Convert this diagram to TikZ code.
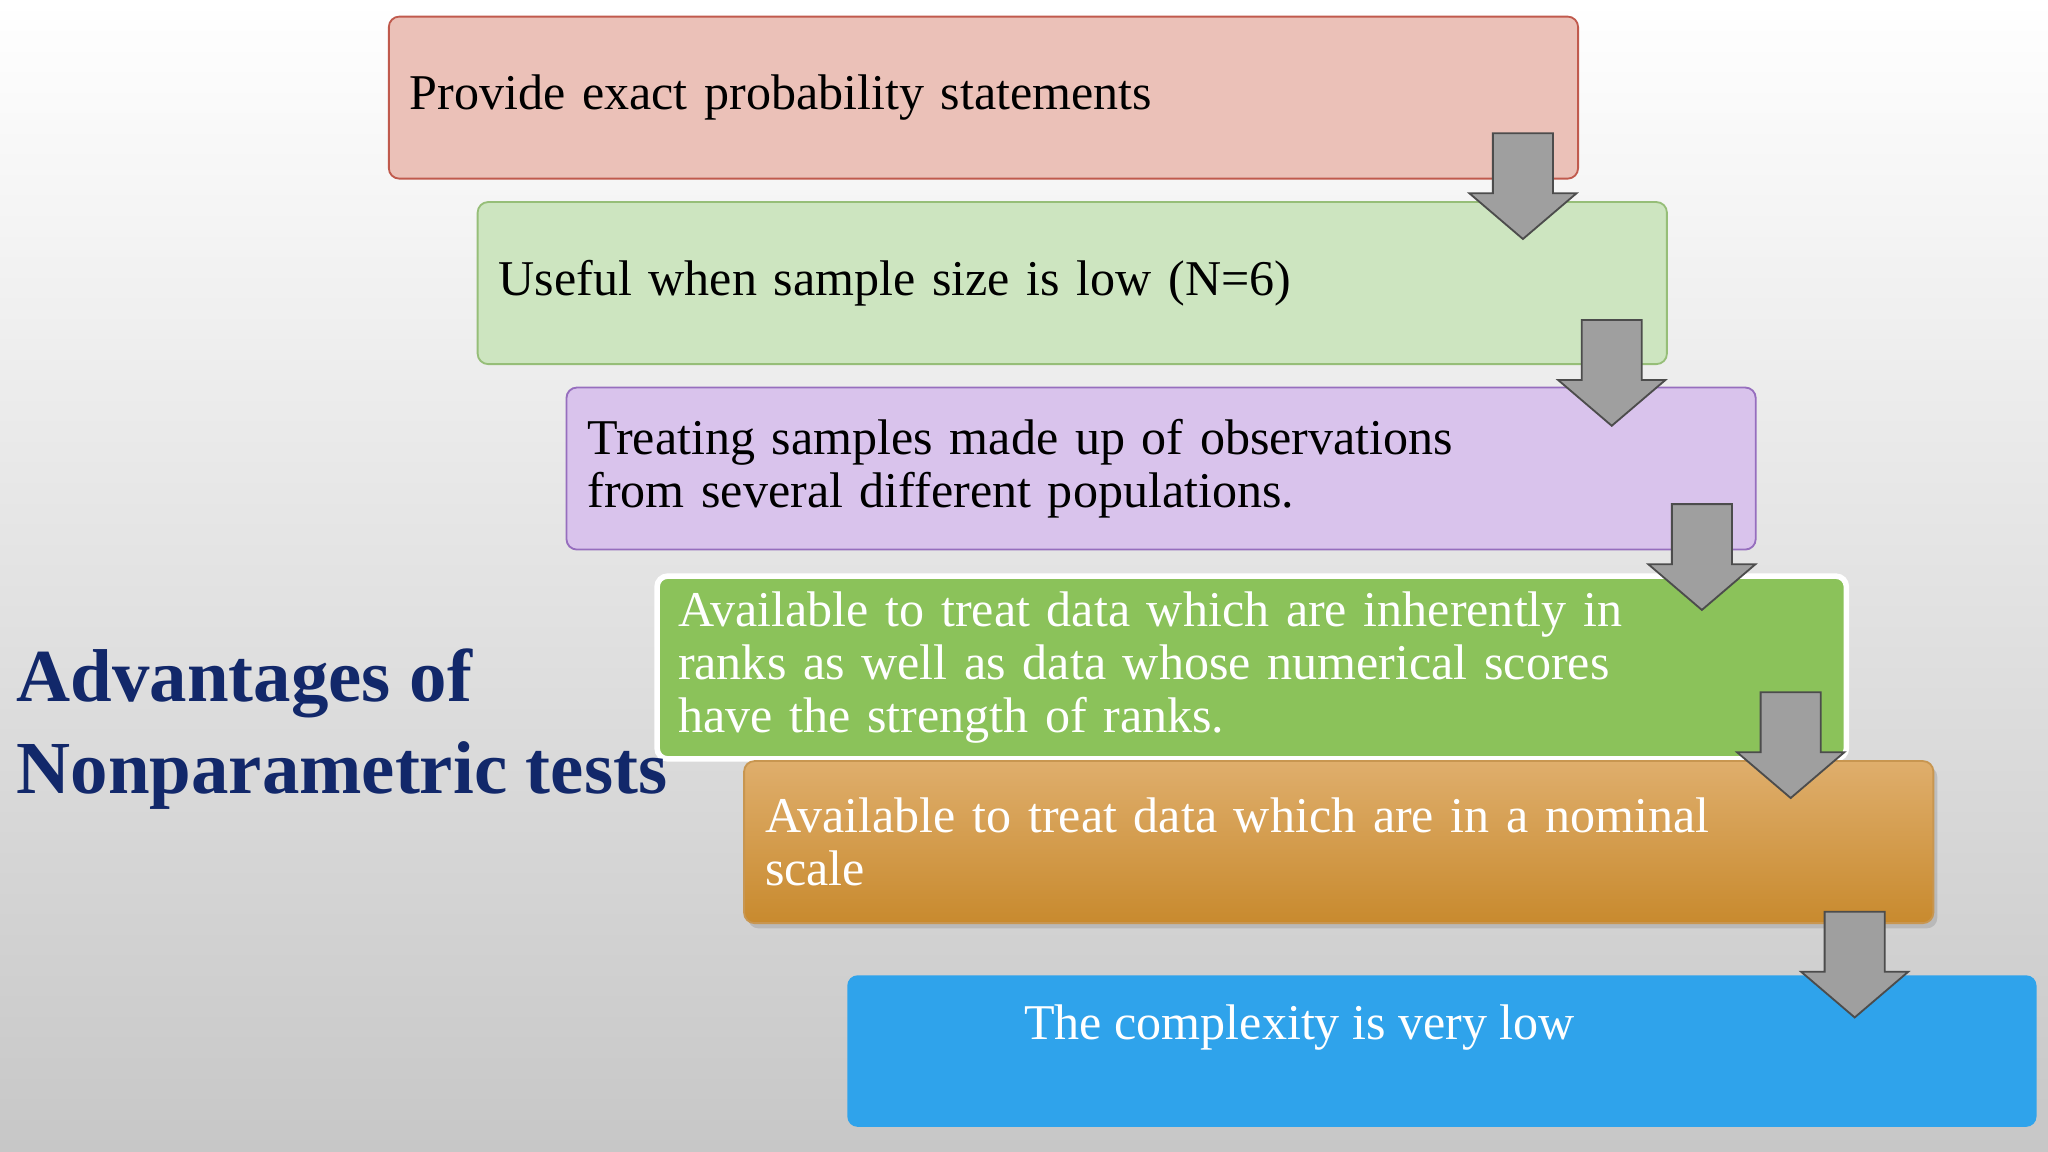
\documentclass[tikz,border=0pt]{standalone}
\usepackage{fontspec}
\setmainfont{Liberation Serif}
\usetikzlibrary{shadows}
\begin{document}
\begin{tikzpicture}[x=0.01cm,y=-0.01cm,
  box/.style={rounded corners=0.08cm, minimum width=9.1cm, minimum height=1.24cm, anchor=north west,
    text width=8.78cm, align=left, inner xsep=0.16cm, font=\fontsize{10.9}{11.6}\selectfont},
  arr/.style={fill=gray!75, draw=black!70, line width=0.4pt}]
\shade[top color=white, bottom color=black!22] (0,0) rectangle (1568,882);
\useasboundingbox (0,0) rectangle (1568,882);
\node[box, fill={rgb,255:red,235;green,193;blue,184}, draw={rgb,255:red,192;green,90;blue,77}] (b1) at (297,12) {Provide exact probability statements};
\node[box, fill={rgb,255:red,205;green,229;blue,192}, draw={rgb,255:red,150;green,190;blue,120}] (b2) at (365,154) {Useful when sample size is low (N=6)};
\node[box, fill={rgb,255:red,217;green,195;blue,236}, draw={rgb,255:red,150;green,110;blue,190}] (b3) at (433,296) {Treating samples made up of observations\\from several different populations.};
\node[box, fill={rgb,255:red,139;green,194;blue,90}, draw=white, line width=1.2pt, text=white, minimum height=1.22cm] (b4) at (501,439) {Available to treat data which are inherently in\\ranks as well as data whose numerical scores\\have the strength of ranks.};
\node[box, top color={rgb,255:red,223;green,174;blue,108}, bottom color={rgb,255:red,200;green,138;blue,46}, draw={rgb,255:red,200;green,150;blue,80}, text=white, drop shadow={opacity=0.3, shadow xshift=0.03cm, shadow yshift=-0.04cm}] (b5) at (569,582) {Available to treat data which are in a nominal\\scale};
\node[box, fill={rgb,255:red,47;green,163;blue,235}, minimum height=1.16cm, text=white] (b6) at (648,746) {};
\node[font=\fontsize{10.9}{11.6}\selectfont, text=white] (t6) at (995,787) {The complexity is very low};
\foreach \x/\y in {1143/102, 1211/245, 1280/386, 1348/530, 1397/698}{
  \draw[arr] (\x,\y) -- (\x+46,\y) -- (\x+46,\y+46) -- (\x+64,\y+46) -- (\x+23,\y+81) -- (\x-18,\y+46) -- (\x,\y+46) -- cycle;
}
\node[anchor=west, align=left, inner sep=0pt, font=\fontsize{16.3}{20}\selectfont\bfseries, text={rgb,255:red,18;green,40;blue,106}] (title) at (12,558) {Advantages of\\Nonparametric tests};
\end{tikzpicture}
\end{document}
